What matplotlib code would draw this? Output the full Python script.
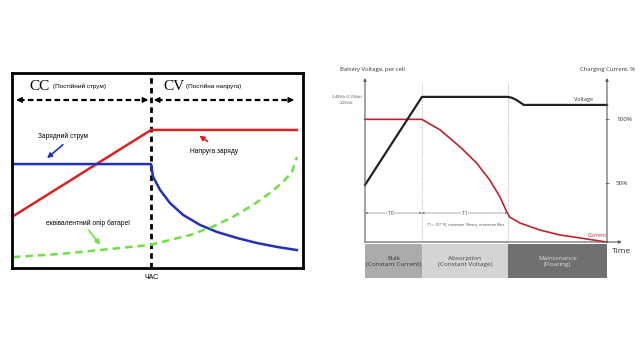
import matplotlib
matplotlib.use("Agg")
from matplotlib import pyplot as plt
import numpy as np

# ---- left diagram (CC / CV), time 0..10, level 0..100
switch_t = 4.78
end_t = 9.79
red_t = [0, switch_t, end_t]
red_v = [26.2, 70.8, 70.8]
blue_t = [0, 4.78, 4.81, 4.85, 5.09, 5.43, 5.88, 6.46, 7.04, 7.73, 8.42, 9.11, 9.79]
blue_v = [53.3, 53.3, 50.0, 46.7, 40.0, 33.3, 27.2, 22.1, 18.5, 15.4, 12.8, 10.8, 9.2]
green_t = [0.03, 1.65, 3.02, 4.74, 5.43, 6.12, 6.87, 7.59, 8.28, 8.87, 9.31, 9.62, 9.79]
green_v = [5.6, 7.2, 9.2, 11.8, 14.4, 16.9, 21.0, 26.2, 32.3, 38.5, 44.1, 49.2, 56.9]

# ---- right diagram, time in phase units, values in % of current
phase_edges = [0, 1.0, 2.51, 4.25]
phase_names = ["Bulk\n(Constant Current)", "Absorption\n(Constant Voltage)",
               "Maintenance\n(Floating)"]
phase_colors = ["#ababab", "#d4d4d4", "#707070"]
phase_text = ["#333333", "#444444", "#d8d8d8"]
volt_t = [0, 1.0, 2.51, 2.58, 2.66, 2.79, 4.25]
volt_v = [48.6, 117.6, 117.6, 116.9, 115.2, 111.3, 111.3]
curr_t = [0, 1.0, 1.32, 1.67, 1.96, 2.19, 2.37, 2.49, 2.54, 2.72, 3.07, 3.42, 3.77, 4.18, 4.25]
curr_v = [100, 100, 91.7, 78.4, 65.8, 52.5, 39.2, 27.4, 23.5, 18.8, 13.3, 9.4, 7.1, 4.3, 3.9]

fig = plt.figure(figsize=(6.4, 3.6), dpi=100)
fig.patch.set_facecolor("white")
sans = ["Liberation Sans", "DejaVu Sans"]
calib = ["Open Sans", "DejaVu Sans"]

# ================= left =================
ax1 = fig.add_axes([12 / 640, 92 / 360, 291 / 640, 195 / 360])
ax1.set_xlim(0, 10)
ax1.set_ylim(0, 100)
for s in ax1.spines.values():
    s.set_linewidth(2)
    s.set_color("black")
ax1.set_yticks([])
ax1.set_xticks([switch_t])
ax1.set_xticklabels(["ЧАС"], family=sans, fontsize=5)
ax1.tick_params(axis="x", length=0, pad=4)

ax1.axvline(switch_t, color="black", lw=2, ls=(0, (2, 1.5)))
ax1.plot(red_t, red_v, color="#dd2020", lw=1.8)
ax1.plot(blue_t, blue_v, color="#2232b8", lw=1.8)
ax1.plot(green_t, green_v, color="#6ee040", lw=1.8, ls=(0, (3, 2)))

# dashed double arrows
arr_y = 86.2
for a, b in [(0.05, switch_t), (switch_t, end_t)]:
    ax1.plot([a + 0.2, b - 0.2], [arr_y, arr_y], color="black", lw=1.6,
             ls=(0, (2.5, 1.5)))
    for tip, tail in [(a, a + 0.3), (b, b - 0.3)]:
        ax1.annotate("", xy=(tip, arr_y), xytext=(tail, arr_y),
                     arrowprops=dict(arrowstyle="-|>", color="black", lw=1,
                                     mutation_scale=8))

ax1.text(0.58, 93.3, "CC", family=["Liberation Serif", "DejaVu Serif"],
         fontsize=11, va="center", ha="left")
ax1.text(1.42, 93.3, "(Постійний струм)", family=sans, fontsize=4.6,
         va="center", ha="left")
ax1.text(5.2, 93.3, "CV", family=["Liberation Serif", "DejaVu Serif"],
         fontsize=11, va="center", ha="left")
ax1.text(5.98, 93.3, "(Постійна напруга)", family=sans, fontsize=4.6,
         va="center", ha="left")

ax1.text(1.75, 67.7, "Зарядний струм", family=sans, fontsize=4.8,
         ha="center", va="center")
ax1.annotate("", xy=(1.13, 55.4), xytext=(1.82, 64.1),
             arrowprops=dict(arrowstyle="-|>", color="#2232b8", lw=1.2,
                             mutation_scale=7))
ax1.text(6.94, 59.5, "Напруга заряду", family=sans, fontsize=4.8,
         ha="center", va="center")
ax1.annotate("", xy=(6.36, 68.7), xytext=(6.80, 64.1),
             arrowprops=dict(arrowstyle="-|>", color="#dd2020", lw=1.2,
                             mutation_scale=7))
ax1.text(2.6, 23, "еквівалентний опір батареї", family=sans, fontsize=4.8,
         ha="center", va="center")
ax1.annotate("", xy=(3.09, 10.8), xytext=(2.58, 20.5),
             arrowprops=dict(arrowstyle="-|>", color="#6ee040", lw=1.2,
                             mutation_scale=7))

# ================= right =================
ybot = 3.9
ytop = 132.4
ax2 = fig.add_axes([365 / 640, 118 / 360, 242 / 640, 164 / 360])
ax2.set_xlim(0, phase_edges[-1])
ax2.set_ylim(ybot, ytop)
for s in ax2.spines.values():
    s.set_visible(False)
ax2.set_xticks([])
ax2.yaxis.tick_right()
ax2.set_yticks([50, 100])
ax2.set_yticklabels(["50%", "100%"], family=calib, fontsize=4.5,
                    color="#333333")
ax2.tick_params(axis="y", length=3, direction="inout", color="#666666",
                pad=5, width=0.6)

ax_col = "#5a5a5a"
for x0 in [0, phase_edges[-1]]:
    ax2.annotate("", xy=(x0, ytop), xytext=(x0, ybot), annotation_clip=False,
                 arrowprops=dict(arrowstyle="-|>", color=ax_col, lw=0.8,
                                 mutation_scale=4, shrinkA=0, shrinkB=0))
ax2.annotate("", xy=(4.51, ybot), xytext=(0, ybot), annotation_clip=False,
             arrowprops=dict(arrowstyle="-|>", color=ax_col, lw=0.8,
                             mutation_scale=4, shrinkA=0, shrinkB=0))

ax2.vlines(phase_edges[1:3], ybot, 128.5, colors="#a0a0a0", lw=0.6,
           linestyles=(0, (1, 1.5)))

ax2.plot(curr_t, curr_v, color="#c0222a", lw=1.2, clip_on=False)
ax2.plot(volt_t, volt_v, color="#222222", lw=1.6, clip_on=False)
ax2.text(3.84, 115.6, "Voltage", family=calib, fontsize=4, ha="center",
         va="center", color="#333333")
ax2.text(4.07, 9.2, "Current", family=calib, fontsize=3.8, ha="center",
         va="center", color="#c0222a")

ax2.text(-0.32, 117.6, "2.40Vdc (2.30Vdc)", family=calib, fontsize=2.6,
         ha="center", va="center", color="#444444")
ax2.text(-0.32, 113.0, "2.25Vdc", family=calib, fontsize=2.6,
         ha="center", va="center", color="#444444")

# T0 / T1 arrows
t_y = 26.6
for a, b in [(phase_edges[0], phase_edges[1]), (phase_edges[1], phase_edges[2])]:
    ax2.annotate("", xy=(a, t_y), xytext=(b, t_y), annotation_clip=False,
                 arrowprops=dict(arrowstyle="<|-|>", color="#777777", lw=0.4,
                                 mutation_scale=3, shrinkA=0, shrinkB=0))
ax2.text(0.45, t_y, "T0", family=calib, fontsize=3.6, ha="center",
         va="center", color="#444444",
         bbox=dict(fc="white", ec="none", pad=0.6))
ax2.text(1.75, t_y, "T1", family=calib, fontsize=3.6, ha="center",
         va="center", color="#444444",
         bbox=dict(fc="white", ec="none", pad=0.6))
ax2.text(1.76, 18.2, "T1 = 10* T0, minimum 10mins, maximum 8hrs",
         family=calib, fontsize=2.6, ha="center", va="center",
         color="#444444")

# phase boxes below
box_top = 2.0
box_bot = -24.3
widths = np.diff(phase_edges)
bars = ax2.bar(phase_edges[:-1], box_top - box_bot, width=widths,
               bottom=box_bot, align="edge", color=phase_colors, lw=0)
for p in bars:
    p.set_clip_on(False)
for i, name in enumerate(phase_names):
    mid = (phase_edges[i] + phase_edges[i + 1]) / 2
    ax2.text(mid, (box_top + box_bot) / 2, name, family=calib, fontsize=4.6,
             ha="center", va="center", color=phase_text[i], linespacing=1.3)

ax2.text(4.33, -3.3, "Time", family=calib, fontsize=6, ha="left",
         va="center", color="#333333")
ax2.text(-0.44, 138.7, "Battery Voltage, per cell", family=calib,
         fontsize=4.2, ha="left", va="center", color="#333333")
ax2.text(4.25, 138.7, "Charging Current, %", family=calib, fontsize=4.2,
         ha="center", va="center", color="#333333")

fig.savefig("out.png", dpi=100, facecolor="white")
